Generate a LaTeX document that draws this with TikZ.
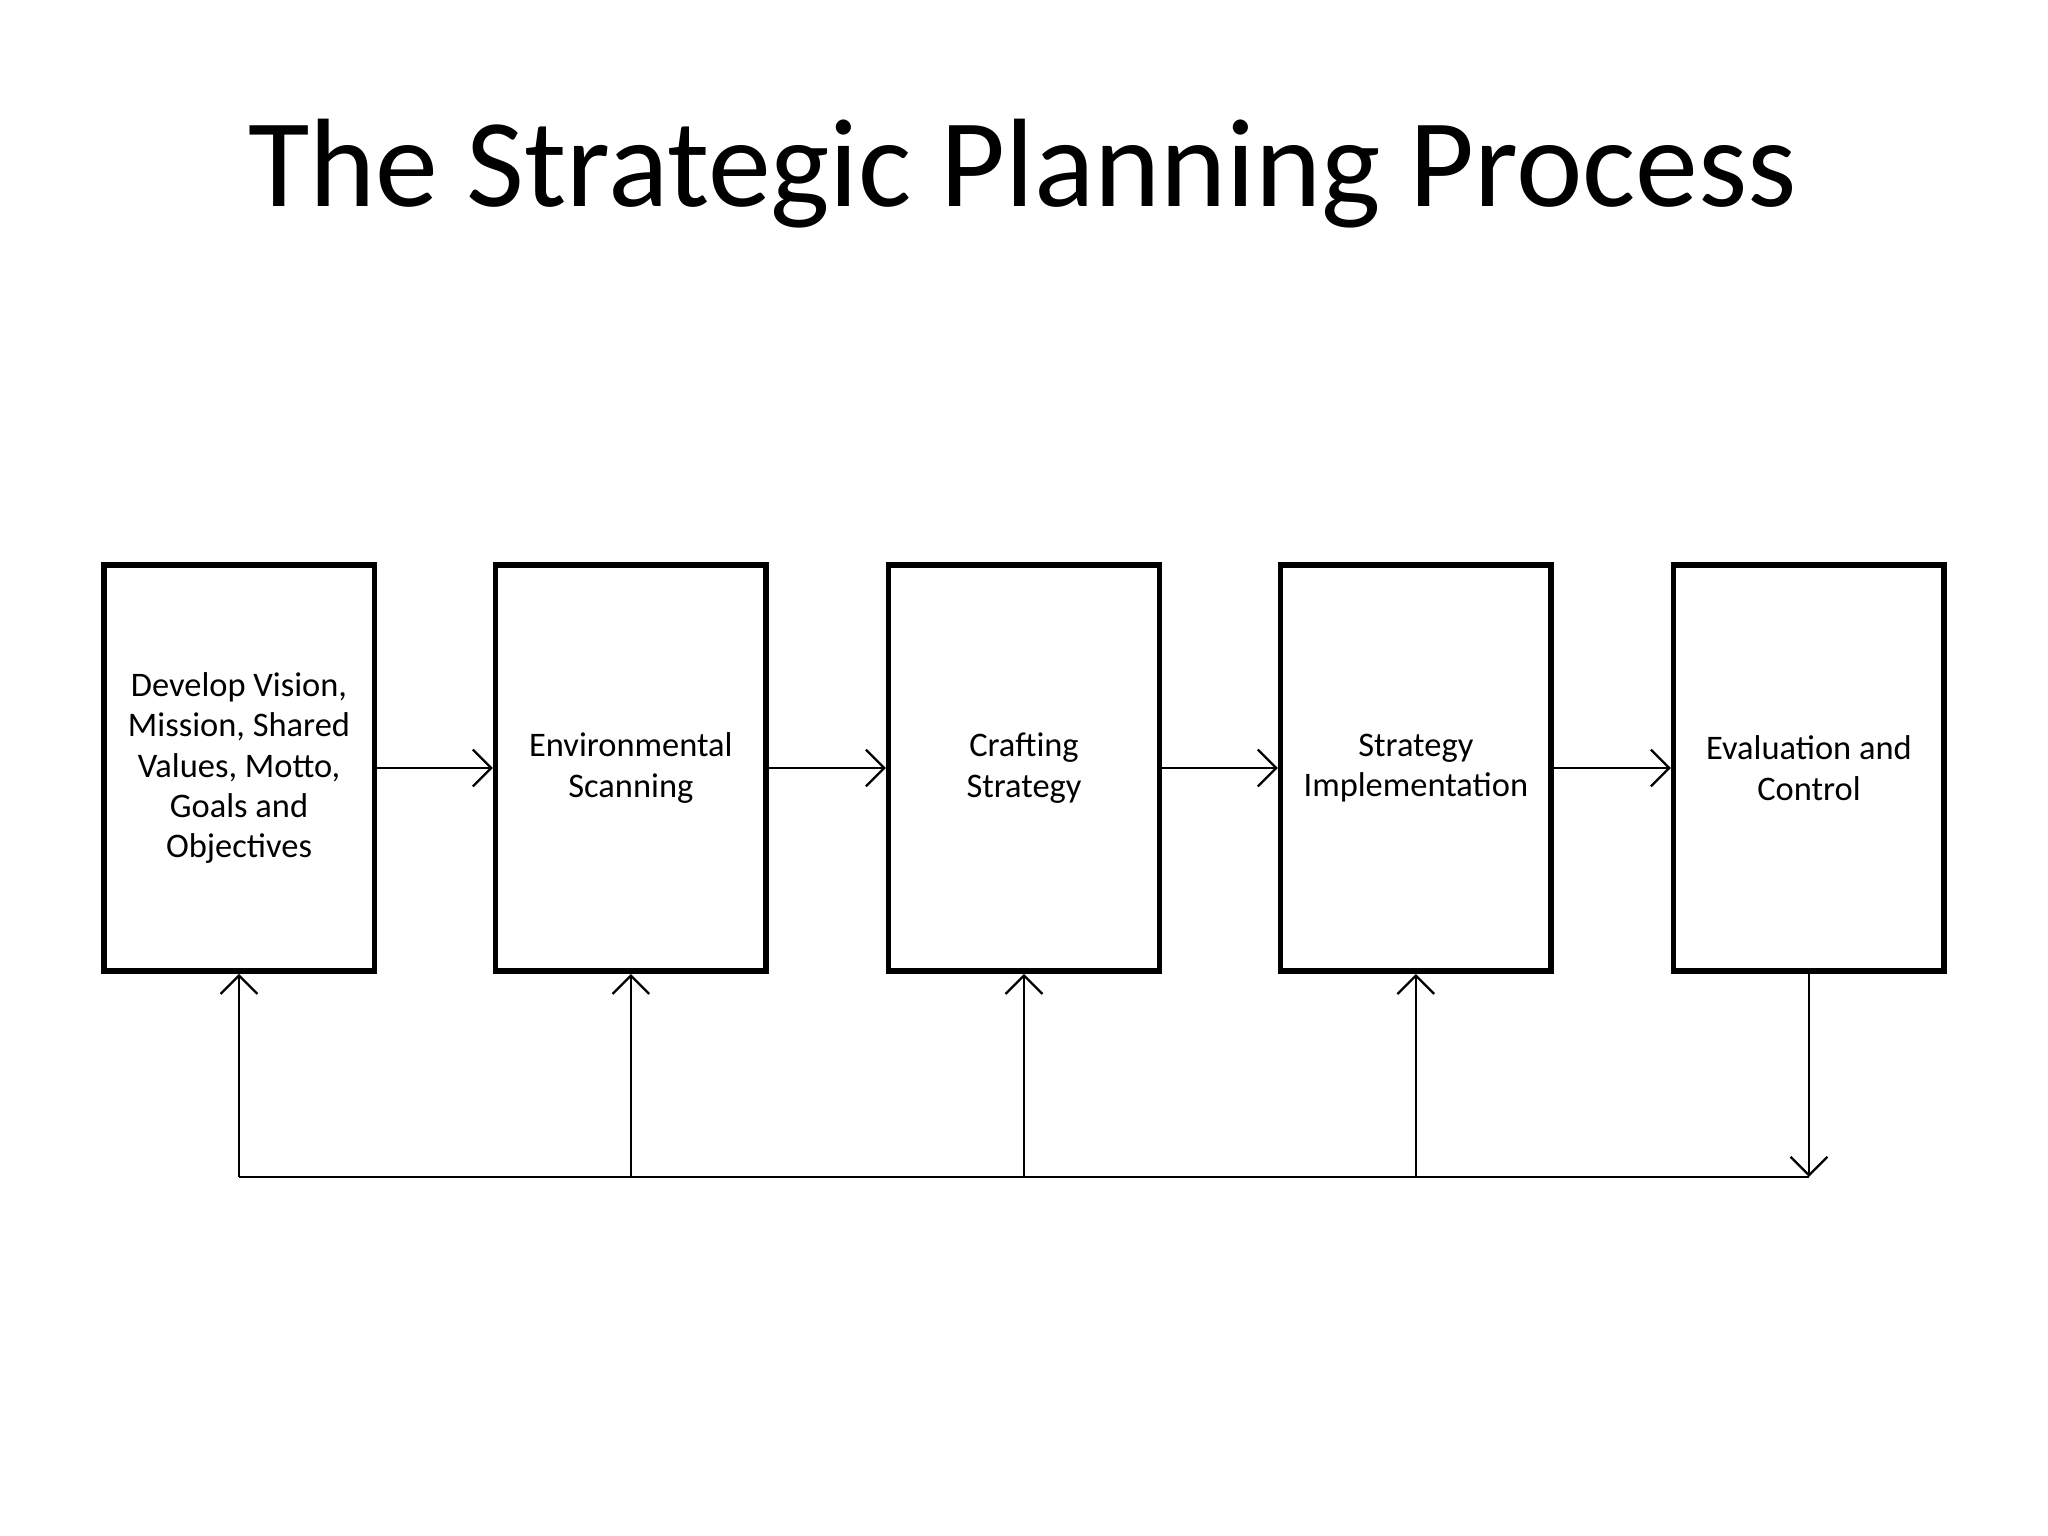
\documentclass[tikz,border=0pt]{standalone}
\usepackage{fontspec}
\setmainfont{Carlito}
\usetikzlibrary{arrows.meta}
\begin{document}
\begin{tikzpicture}[x=0.01cm,y=-0.01cm,
  stage/.style={draw,line width=1.2pt,minimum width=2.07cm,minimum height=3.11cm,inner sep=0pt,align=center,font=\fontsize{7.5pt}{8.8pt}\selectfont},
  flow/.style={line width=0.5pt,-{Straight Barb[length=4pt,width=8pt]}}]
\useasboundingbox (0,0) rectangle (1568,1176);
\node[font=\fontsize{27.4pt}{32pt}\selectfont] (title) at (783,133) {The Strategic Planning Process};
\node[stage] (b1) at (183,588) {Develop Vision,\\Mission, Shared\\Values, Motto,\\Goals and\\Objectives};
\node[stage] (b2) at (483,588) {Environmental\\Scanning};
\node[stage] (b3) at (784,588) {Crafting\\Strategy};
\node[stage] (b4) at (1084,588) {Strategy\\Implementation};
\node[stage] (b5) at (1385,588) {Evaluation and\\Control};
\draw[flow] (b1) -- (b2);
\draw[flow] (b2) -- (b3);
\draw[flow] (b3) -- (b4);
\draw[flow] (b4) -- (b5);
\coordinate (c1) at (183,901);
\coordinate (c2) at (483,901);
\coordinate (c3) at (784,901);
\coordinate (c4) at (1084,901);
\coordinate (c5) at (1385,901);
\draw[flow] (b5.south) -- (c5);
\draw[line width=0.5pt] (c1) -- (c5);
\draw[flow] (c1) -- (b1.south);
\draw[flow] (c2) -- (b2.south);
\draw[flow] (c3) -- (b3.south);
\draw[flow] (c4) -- (b4.south);
\end{tikzpicture}
\end{document}
